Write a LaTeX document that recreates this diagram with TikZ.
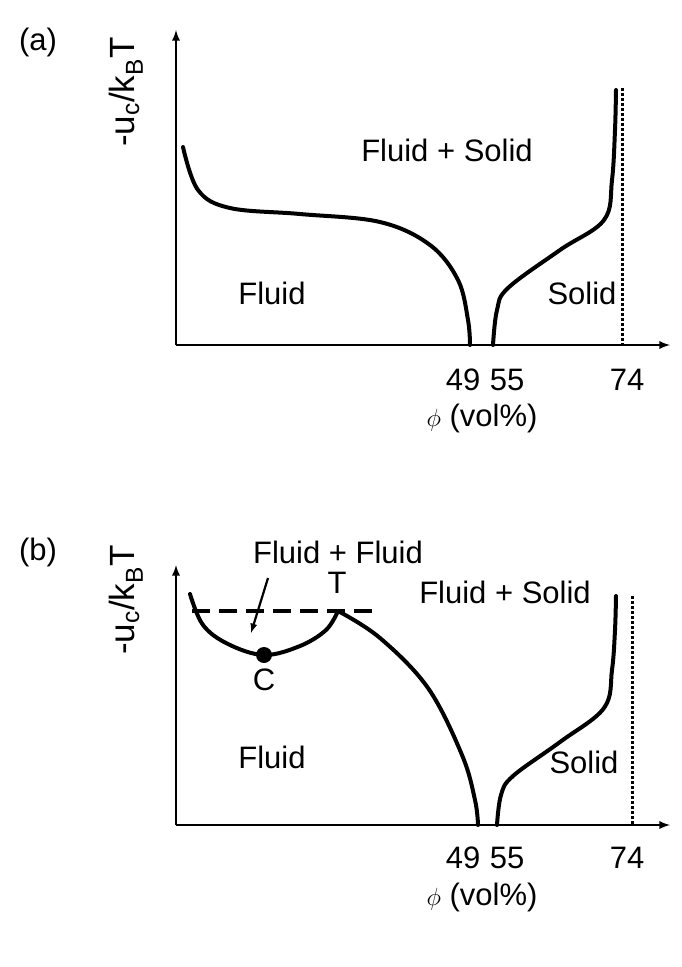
\documentclass[tikz,border=0pt]{standalone}
\usepackage{fontspec}
\setmainfont{Liberation Sans}
\usetikzlibrary{positioning}
\tikzset{
  lbl/.style={font=\fontsize{31}{34}\selectfont, inner sep=1pt},
  axis/.style={line width=2.6pt, -latex},
  curve/.style={line width=4pt, line cap=round},
  limit/.style={line width=3pt, dotted}
}
\begin{document}
\begin{tikzpicture}[x=1pt,y=-1pt]
  \useasboundingbox (0,0) rectangle (682,967);
  % panel (a)
  \coordinate (oa) at (176,345);
  \coordinate (ya) at (176,30);
  \coordinate (xa) at (670,345);
  \draw [axis] (oa) -- (ya);
  \draw [axis] (oa) -- (xa);
  \node [lbl] (taga) at (38,42) {(a)};
  \node [lbl, rotate=90, font=\fontsize{35}{38}\selectfont] (ylaba) at (126,92) {-u\textsubscript{c}/k\textsubscript{B}T};
  \draw [curve] plot [smooth, tension=0.6] coordinates {(183,147) (198,190) (230,208) (300,214) (380,222) (430,245) (458,280) (468,320) (470,345)};
  \draw [curve] plot [smooth, tension=0.6] coordinates {(493,345) (497,310) (508,288) (560,250) (604,220) (612,180) (615,130) (616,90)};
  \coordinate (da1) at (622,88);
  \coordinate (da2) at (622,345);
  \draw [limit] (da1) -- (da2);
  \node [lbl] (fsa) at (447,150) {Fluid + Solid};
  \node [lbl] (fla) at (272,293) {Fluid};
  \node [lbl] (soa) at (582,293) {Solid};
  \node [lbl] (t49a) at (463,380) {49};
  \node [lbl] (t55a) at (507,380) {55};
  \node [lbl] (t74a) at (627,380) {74};
  \node [lbl] (phia) at (482,418) {$\phi$ (vol\%)};
  % panel (b)
  \coordinate (ob) at (176,825);
  \coordinate (yb) at (176,565);
  \coordinate (xb) at (670,825);
  \draw [axis] (ob) -- (yb);
  \draw [axis] (ob) -- (xb);
  \node [lbl] (tagb) at (38,552) {(b)};
  \node [lbl, rotate=90, font=\fontsize{35}{38}\selectfont] (ylabb) at (126,600) {-u\textsubscript{c}/k\textsubscript{B}T};
  \coordinate (db1) at (192,611);
  \coordinate (db2) at (377,611);
  \draw [line width=3.4pt, dash pattern=on 18pt off 9pt] (db1) -- (db2);
  \draw [curve] plot [smooth, tension=0.6] coordinates {(190,594) (203,625) (228,644) (264,655) (300,646) (326,630) (338,611)};
  \draw [curve] plot [smooth, tension=0.6] coordinates {(338,611) (380,638) (428,688) (462,755) (475,800) (478,825)};
  \draw [curve] plot [smooth, tension=0.6] coordinates {(497,825) (501,795) (513,776) (560,742) (604,708) (612,670) (615,630) (616,596)};
  \coordinate (dc1) at (632,596);
  \coordinate (dc2) at (632,825);
  \draw [limit] (dc1) -- (dc2);
  \node [circle, fill, inner sep=0pt, minimum size=16pt] (crit) at (264,655) {};
  \node [lbl, below=4pt of crit] (clab) {C};
  \node [lbl] (tlab) at (337,583) {T};
  \node [lbl] (ffb) at (338,552) {Fluid + Fluid};
  \coordinate (arr) at (251,633);
  \draw [line width=2.2pt, -latex] (268,578) -- (arr);
  \node [lbl] (fsb) at (505,592) {Fluid + Solid};
  \node [lbl] (flb) at (272,757) {Fluid};
  \node [lbl] (sob) at (584,762) {Solid};
  \node [lbl] (t49b) at (463,858) {49};
  \node [lbl] (t55b) at (507,858) {55};
  \node [lbl] (t74b) at (627,858) {74};
  \node [lbl] (phib) at (482,897) {$\phi$ (vol\%)};
\end{tikzpicture}
\end{document}
